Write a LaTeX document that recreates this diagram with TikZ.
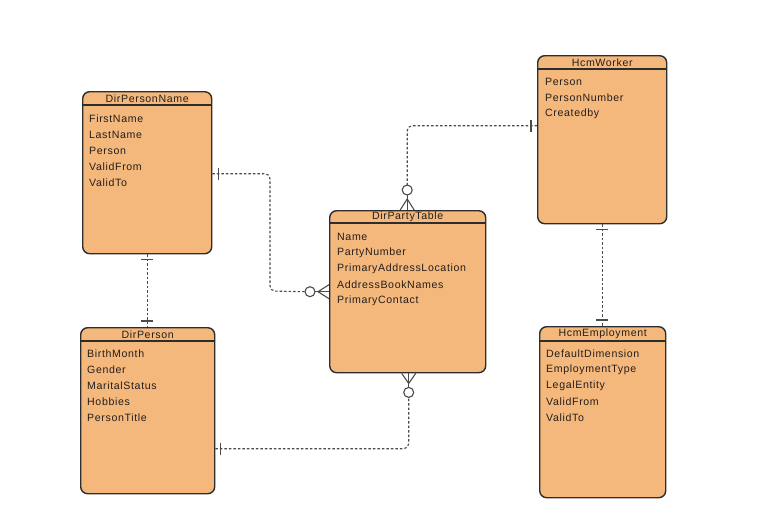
\documentclass[tikz,border=0pt]{standalone}
\usepackage{fontspec}
\setmainfont{Liberation Sans}[LetterSpace=6]
\usetikzlibrary{calc}
\definecolor{efill}{RGB}{245,184,124}
\definecolor{edraw}{RGB}{45,45,45}
\definecolor{lcol}{RGB}{75,75,75}
\definecolor{tcol}{RGB}{35,30,28}
\begin{document}
\begin{tikzpicture}[x=1pt,y=-1pt,
  entity/.style={draw=edraw, fill=efill, line width=1.4pt, rounded corners=7pt, inner sep=0pt, anchor=north west},
  sep/.style={draw=edraw, line width=1.3pt},
  ttl/.style={font=\fontsize{10.6}{12}\selectfont, text=tcol, inner sep=0pt},
  attr/.style={font=\fontsize{10.6}{12}\selectfont, text=tcol, inner sep=0pt, anchor=west},
  conn/.style={draw=lcol, line width=1.1pt, dash pattern=on 2.5pt off 2pt, rounded corners=5pt},
  endmark/.style={draw=lcol, line width=1.1pt},
  ring/.style={draw=lcol, line width=1.1pt, fill=white}
]
\useasboundingbox (0,0) rectangle (768,523);

% ---------- entities ----------
\node[entity, minimum width=129pt, minimum height=162pt] (pn) at (82,91) {};
\node[entity, minimum width=134pt, minimum height=166pt] (dp) at (80,327) {};
\node[entity, minimum width=156pt, minimum height=162pt] (pt) at (329,210) {};
\node[entity, minimum width=129pt, minimum height=168pt] (hw) at (537,55) {};
\node[entity, minimum width=126pt, minimum height=171pt] (he) at (539,326) {};

% header separators
\draw[sep] ($(pn.north west)+(0,14)$) -- ($(pn.north east)+(0,14)$);
\draw[sep] ($(dp.north west)+(0,14)$) -- ($(dp.north east)+(0,14)$);
\draw[sep] ($(pt.north west)+(0,13)$) -- ($(pt.north east)+(0,13)$);
\draw[sep] ($(hw.north west)+(0,14)$) -- ($(hw.north east)+(0,14)$);
\draw[sep] ($(he.north west)+(0,15)$) -- ($(he.north east)+(0,15)$);

% titles
\node[ttl] (pnt) at ($(pn.north)+(0,7.5)$) {DirPersonName};
\node[ttl] (dpt) at ($(dp.north)+(0,7.5)$) {DirPerson};
\node[ttl] (ptt) at ($(pt.north)+(0,7)$) {DirPartyTable};
\node[ttl] (hwt) at ($(hw.north)+(0,7.5)$) {HcmWorker};
\node[ttl] (het) at ($(he.north)+(0,8)$) {HcmEmployment};

% attributes
\foreach \t [count=\i] in {FirstName,LastName,Person,ValidFrom,ValidTo}
  \node[attr] (pn-a\i) at (89,{103+16*\i}) {\t};
\foreach \t [count=\i] in {BirthMonth,Gender,MaritalStatus,Hobbies,PersonTitle}
  \node[attr] (dp-a\i) at (87,{338+16*\i}) {\t};
\foreach \t [count=\i] in {Name,PartyNumber,PrimaryAddressLocation,AddressBookNames,PrimaryContact}
  \node[attr] (pt-a\i) at (337,{221+16*\i}) {\t};
\foreach \t [count=\i] in {Person,PersonNumber,Createdby}
  \node[attr] (hw-a\i) at (545,{66+16*\i}) {\t};
\foreach \t [count=\i] in {DefaultDimension,EmploymentType,LegalEntity,ValidFrom,ValidTo}
  \node[attr] (he-a\i) at (546,{338+16*\i}) {\t};

% ---------- connectors ----------
% DirPersonName -> DirPartyTable (one to zero-or-many)
\coordinate (c1a) at ($(pn.east)+(0,1)$);
\coordinate (c1r) at ($(pt.west)+(-19,0)$);
\coordinate (c1m) at (270,291);
\draw[conn] (c1a) -| (c1m) -- ($(c1r)+(-5,0)$);
\draw[endmark] ($(c1a)+(6,-6)$) -- ($(c1a)+(6,6)$);
\draw[ring] (c1r) circle (5);
\draw[endmark] ($(c1r)+(5,0)$) -- (pt.west);
\draw[endmark] ($(c1r)+(8,0)$) -- ($(pt.west)+(0,-7)$);
\draw[endmark] ($(c1r)+(8,0)$) -- ($(pt.west)+(0,7)$);

% HcmWorker -> DirPartyTable
\coordinate (c2a) at ($(hw.west)+(0,-14)$);
\coordinate (c2t) at ($(pt.north)+(-0.5,0)$);
\coordinate (c2r) at ($(c2t)+(0,-20)$);
\draw[conn] (c2a) -| ($(c2r)+(0,-5)$);
\draw[endmark] ($(c2a)+(-6,-6)$) -- ($(c2a)+(-6,6)$);
\draw[ring] (c2r) circle (5);
\draw[endmark] ($(c2r)+(0,5)$) -- (c2t);
\draw[endmark] ($(c2r)+(0,9)$) -- ($(c2t)+(-7,0)$);
\draw[endmark] ($(c2r)+(0,9)$) -- ($(c2t)+(7,0)$);

% DirPerson -> DirPartyTable
\coordinate (c3a) at ($(dp.east)+(0,38)$);
\coordinate (c3b) at ($(pt.south)+(1,0)$);
\coordinate (c3r) at ($(c3b)+(0,19)$);
\draw[conn] (c3a) -| ($(c3r)+(0,5)$);
\draw[endmark] ($(c3a)+(5,-6)$) -- ($(c3a)+(5,6)$);
\draw[ring] (c3r) circle (5);
\draw[endmark] ($(c3r)+(0,-5)$) -- (c3b);
\draw[endmark] ($(c3r)+(0,-9)$) -- ($(c3b)+(-7,0)$);
\draw[endmark] ($(c3r)+(0,-9)$) -- ($(c3b)+(7,0)$);

% DirPersonName -> DirPerson
\coordinate (c4a) at (pn.south);
\coordinate (c4b) at (pn.south |- dp.north);
\draw[conn] (c4a) -- (c4b);
\draw[endmark] ($(c4a)+(-6,5)$) -- ($(c4a)+(6,5)$);
\draw[endmark] ($(c4b)+(-6,-6)$) -- ($(c4b)+(6,-6)$);

% HcmWorker -> HcmEmployment
\coordinate (c5a) at ($(hw.south)+(0,0)$);
\coordinate (c5b) at (hw.south |- he.north);
\draw[conn] (c5a) -- (c5b);
\draw[endmark] ($(c5a)+(-6,5)$) -- ($(c5a)+(6,5)$);
\draw[endmark] ($(c5b)+(-6,-6)$) -- ($(c5b)+(6,-6)$);
\end{tikzpicture}
\end{document}
